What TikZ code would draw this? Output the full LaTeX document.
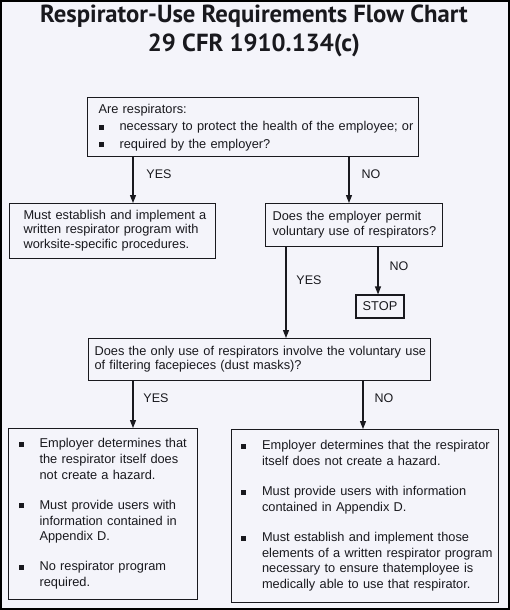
\documentclass[tikz,border=0pt]{standalone}
\usepackage{fontspec}
\setmainfont{Liberation Sans}
\newfontfamily\titlefont{PT Sans}
\usetikzlibrary{arrows.meta}
\definecolor{bgc}{RGB}{244,244,250}
\definecolor{ink}{RGB}{25,25,30}
\newcommand{\bsq}{\makebox[21pt][l]{\rule[1pt]{5pt}{5pt}}}
\tikzset{
  box/.style={draw=ink, line width=1.1pt, anchor=north west, align=left,
    text=ink, inner ysep=0pt, font=\fontsize{12.8}{15.7}\selectfont},
  lbl/.style={text=ink, font=\fontsize{12.5}{15}\selectfont, inner sep=0pt},
  arr/.style={draw=ink, line width=1.1pt, -{Triangle[length=8pt,width=6pt]}}
}
\begin{document}
\begin{tikzpicture}[x=1pt,y=-1pt]
\useasboundingbox (0,0) rectangle (510,610);
\fill[bgc] (0,0) rectangle (510,610);
\draw[line width=2pt, black] (1,1) rectangle (509,609);

\node[text=ink, font=\titlefont\bfseries\fontsize{24.7}{28.5}\selectfont, align=center, inner sep=0pt] (title) at (254,31)
  {Respirator-Use Requirements Flow Chart\\29 CFR 1910.134(c)};

\node[box, minimum height=59pt, inner xsep=11pt, text width=309pt] (b1) at (87,97)
  {\fontsize{12.8}{17.5}\selectfont\begin{tabular}{@{}l@{}}
   Are respirators:\\
   \bsq necessary to protect the health of the employee; or\\
   \bsq required by the employer?
   \end{tabular}};

\node[box, minimum height=55pt, inner xsep=14pt, text width=178pt] (b2) at (9,203)
  {\fontsize{12.8}{14.2}\selectfont\begin{tabular}{@{}l@{}}
   Must establish and implement a\\
   written respirator program with\\
   worksite-specific procedures.
   \end{tabular}};

\node[box, minimum height=43pt, inner xsep=7pt, text width=163pt] (b3) at (265,203)
  {\fontsize{12.8}{15}\selectfont\begin{tabular}{@{}l@{}}
   Does the employer permit\\
   voluntary use of respirators?
   \end{tabular}};

\node[box, minimum height=23pt, minimum width=48pt, inner xsep=0pt, anchor=center, align=center] (stop) at (380,306.5)
  {STOP};

\node[box, minimum height=42pt, inner xsep=6pt, text width=330pt] (b4) at (88,338)
  {\fontsize{12.8}{13.5}\selectfont\begin{tabular}{@{}l@{}}
   Does the only use of respirators involve the voluntary use\\
   of filtering facepieces (dust masks)?
   \end{tabular}};

\node[box, minimum height=171pt, inner xsep=10pt, text width=169pt] (b5) at (8,428)
  {\begin{tabular}{@{}l@{}l@{}}
   \bsq & Employer determines that\\
        & the respirator itself does\\
        & not create a hazard.\\[14.5pt]
   \bsq & Must provide users with\\
        & information contained in\\
        & Appendix D.\\[14.5pt]
   \bsq & No respirator program\\
        & required.
   \end{tabular}};

\node[box, minimum height=173pt, inner xsep=9.5pt, text width=248pt] (b6) at (231,429)
  {\begin{tabular}{@{}l@{}l@{}}
   \bsq & Employer determines that the respirator\\
        & itself does not create a hazard.\\[14.5pt]
   \bsq & Must provide users with information\\
        & contained in Appendix D.\\[14.5pt]
   \bsq & Must establish and implement those\\
        & elements of a written respirator program\\
        & necessary to ensure thatemployee is\\
        & medically able to use that respirator.
   \end{tabular}};

\coordinate (cA) at (133,0);
\coordinate (cB) at (349,0);
\coordinate (cC) at (286,0);
\coordinate (cD) at (378,0);
\coordinate (cE) at (363,0);

\draw[arr] (b1.south -| cA) -- (b2.north -| cA);
\draw[arr] (b1.south -| cB) -- (b3.north -| cB);
\draw[arr] (b3.south -| cC) -- (b4.north -| cC);
\draw[arr] (b3.south -| cD) -- (stop.north -| cD);
\draw[arr] (b4.south -| cA) -- (b5.north -| cA);
\draw[arr] (b4.south -| cE) -- (b6.north -| cE);

\node[lbl] (y1) at (159,174) {YES};
\node[lbl] (n1) at (371,174) {NO};
\node[lbl] (y2) at (309,280) {YES};
\node[lbl] (n2) at (399,266) {NO};
\node[lbl] (y3) at (156,398) {YES};
\node[lbl] (n3) at (384,398) {NO};
\end{tikzpicture}
\end{document}
